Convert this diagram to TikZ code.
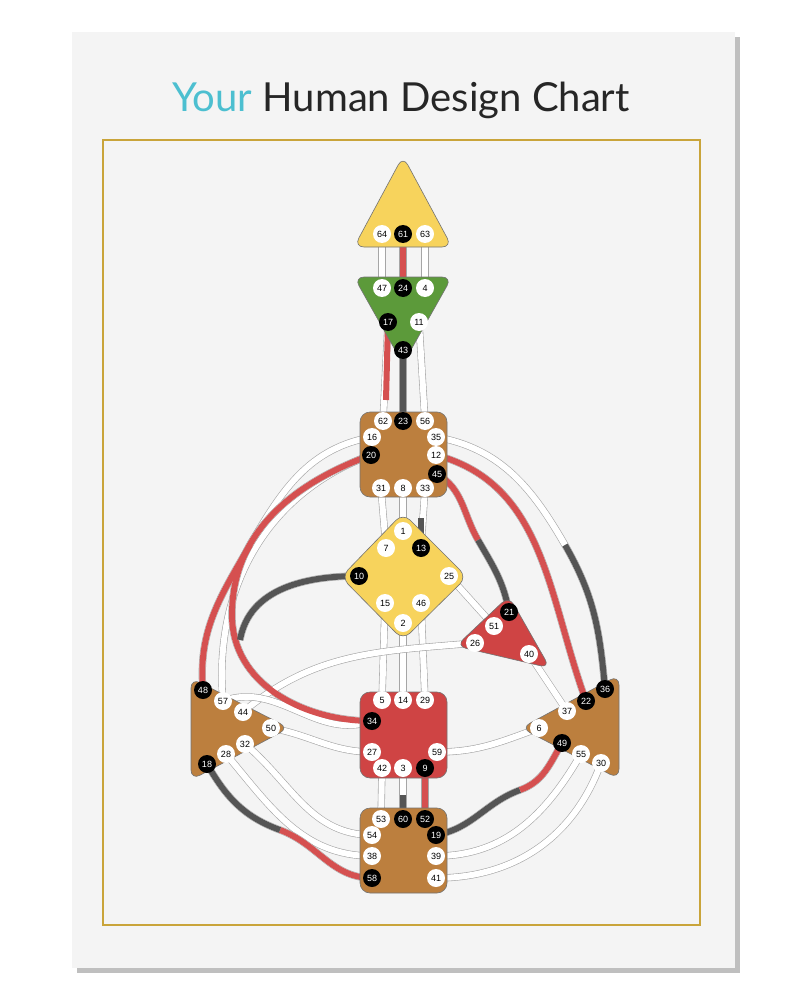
\documentclass[tikz,border=0pt]{standalone}
\usepackage{fontspec}
\setmainfont{Lato}
\newfontfamily\gatefont{Liberation Sans}
\usetikzlibrary{positioning}
\definecolor{paper}{HTML}{F4F4F4}
\definecolor{gold}{HTML}{C9A43A}
\definecolor{teal}{HTML}{4CBFD0}
\definecolor{headyel}{HTML}{F7D35C}
\definecolor{ajnagrn}{HTML}{5C9A3A}
\definecolor{centbrn}{HTML}{BC7F3E}
\definecolor{centred}{HTML}{CF4444}
\definecolor{actred}{HTML}{D55050}
\definecolor{actgry}{HTML}{555555}
% gate number / x / y / style
\def\gatelist{64/382/234/gate, 61/403/234/defgate, 63/425/234/gate,
  47/382/288/gate, 24/403/288/defgate, 4/425/288/gate, 17/388/322/defgate,
  11/419/322/gate, 43/403/350/defgate,
  62/383/421/gate, 23/403/421/defgate, 56/425/421/gate, 16/372/437/gate,
  35/436/437/gate, 20/371/455/defgate, 12/436/455/gate, 45/437/474/defgate,
  31/381/488/gate, 8/403/488/gate, 33/425/488/gate,
  1/403/531/gate, 7/386/548/gate, 13/421/548/defgate, 10/359/576/defgate,
  25/449/576/gate, 15/385/603/gate, 46/421/603/gate, 2/403/623/gate,
  21/509/612/defgate, 51/494/626/gate, 26/475/643/gate, 40/529/654/gate,
  5/382/700/gate, 14/403/700/gate, 29/425/700/gate, 34/372/721/defgate,
  27/372/752/gate, 59/437/752/gate, 42/382/768/gate, 3/403/768/gate, 9/425/768/defgate,
  53/381/819/gate, 60/403/819/defgate, 52/425/819/defgate, 54/372/835/gate,
  19/436/835/defgate, 38/372/856/gate, 39/436/856/gate, 58/372/878/defgate, 41/436/878/gate,
  48/203/690/defgate, 57/223/701/gate, 44/243/712/gate, 50/271/728/gate,
  32/245/744/gate, 28/226/754/gate, 18/207/764/defgate,
  36/605/689/defgate, 22/586/701/defgate, 37/567/711/gate, 6/539/728/gate,
  49/562/743/defgate, 55/581/754/gate, 30/601/763/gate}

\begin{document}
\begin{tikzpicture}[x=1pt, y=-1pt,
        gate/.style = {circle, fill=white, minimum size=18pt, inner sep=0pt,
                       font=\gatefont\fontsize{9}{9}\selectfont},
        defgate/.style = {gate, fill=black, text=white},
        chan/.style = {draw=black!35, double=white, double distance=6pt, line width=0.6pt},
        redline/.style = {draw=actred, line width=6pt},
        gryline/.style = {draw=actgry, line width=6pt},
        centre/.style = {draw=black!55, line width=0.6pt, rounded corners=10pt}]
    \useasboundingbox (0,0) rectangle (800,1000);
    \fill[black!25] (77,37) rectangle (740,973);
    \fill[paper] (72,32) rectangle (735,968);
    \draw[gold, line width=1.4pt] (103,140) rectangle (700,925);
    \node (title) at (401,100) {\fontsize{40}{44}\selectfont\textcolor{teal}{Your} \textcolor{black!85}{Human Design Chart}};

    % gate positions
    \foreach \n/\x/\y/\s in \gatelist
        \coordinate (g\n) at (\x,\y);

    % split points
    \coordinate (m16) at (250,545);
    \coordinate (m17) at (386,400);
    \coordinate (m45) at (478,540);
    \coordinate (m35) at (565,545);
    \coordinate (m18) at (280,830);
    \coordinate (m19) at (520,790);
    \coordinate (m20) at (232,615);
    \coordinate (m10) at (240,640);
    \coordinate (m13) at (421,518);
    \coordinate (m60) at (403,795);

    % channels
    \foreach \a/\b in {g64/g47, g61/g24, g63/g4, g17/g62, g43/g23, g11/g56,
                       g31/g7, g8/g1, g33/g13, g15/g5, g2/g14, g46/g29,
                       g42/g53, g3/g60, g9/g52, g25/g51, g37/g40}
        \draw[chan] (\a) -- (\b);
    \draw[chan] (g16) to[out=190, in=60] (m16) to[out=240, in=95] (g48);
    \draw[chan] (g57) to[out=95, in=200] (g20);
    \draw[chan] (g20) to[out=200, in=90] (m20) to[out=-90, in=180] (g34);
    \draw[chan] (g10) to[out=180, in=80] (m10);
    \draw[chan] (g44) to[out=40, in=185] (g26);
    \draw[chan] (g50) to[out=-10, in=180] (g27);
    \draw[chan] (g34) to[out=200, in=20] (g57);
    \draw[chan] (g59) to[out=0, in=200] (g6);
    \draw[chan] (g45) to[out=-30, in=120] (m45) to[out=-60, in=100] (g21);
    \draw[chan] (g12) to[out=-15, in=110] (g22);
    \draw[chan] (g35) to[out=-10, in=120] (m35) to[out=-60, in=95] (g36);
    \draw[chan] (g54) to[out=180, in=-40] (g32);
    \draw[chan] (g38) to[out=180, in=-50] (g28);
    \draw[chan] (g58) to[out=180, in=-20] (m18) to[out=160, in=-60] (g18);
    \draw[chan] (g19) to[out=10, in=200] (m19) to[out=20, in=-120] (g49);
    \draw[chan] (g39) to[out=0, in=-120] (g55);
    \draw[chan] (g41) to[out=0, in=-110] (g30);

    % activations
    \draw[redline] (g61) -- (g24);
    \draw[redline] (g17) -- (m17);
    \draw[gryline] (g43) -- (g23);
    \draw[gryline] (g13) -- (m13);
    \draw[redline] (m16) to[out=240, in=95] (g48);
    \draw[redline] (g20) to[out=200, in=90] (m20) to[out=-90, in=180] (g34);
    \draw[gryline] (g10) to[out=180, in=80] (m10);
    \draw[redline] (g45) to[out=-30, in=120] (m45);
    \draw[gryline] (m45) to[out=-60, in=100] (g21);
    \draw[redline] (g12) to[out=-15, in=110] (g22);
    \draw[gryline] (m35) to[out=-60, in=95] (g36);
    \draw[redline] (g9) -- (g52);
    \draw[gryline] (g60) -- (m60);
    \draw[redline] (g58) to[out=180, in=-20] (m18);
    \draw[gryline] (m18) to[out=160, in=-60] (g18);
    \draw[gryline] (g19) to[out=10, in=200] (m19);
    \draw[redline] (m19) to[out=20, in=-120] (g49);

    % centres
    \draw[centre, fill=headyel] (403,156) -- (452,247) -- (354,247) -- cycle;
    \draw[centre, fill=ajnagrn] (354,277) -- (452,277) -- (403,364) -- cycle;
    \draw[centre, fill=centbrn] (360,412) rectangle (447,497);
    \draw[centre, fill=headyel] (403,513) -- (467,577) -- (403,640) -- (341,577) -- cycle;
    \draw[centre, fill=centred] (509,596) -- (550,668) -- (456,646) -- cycle;
    \draw[centre, fill=centred] (360,692) rectangle (447,778);
    \draw[centre, fill=centbrn] (360,808) rectangle (447,893);
    \draw[centre, fill=centbrn] (191,678) -- (289,728) -- (191,780) -- cycle;
    \draw[centre, fill=centbrn] (619,675) -- (619,779) -- (521,728) -- cycle;

    % gates
    \foreach \n/\x/\y/\s in \gatelist
        \node[\s] (n\n) at (g\n) {\n};
\end{tikzpicture}
\end{document}
